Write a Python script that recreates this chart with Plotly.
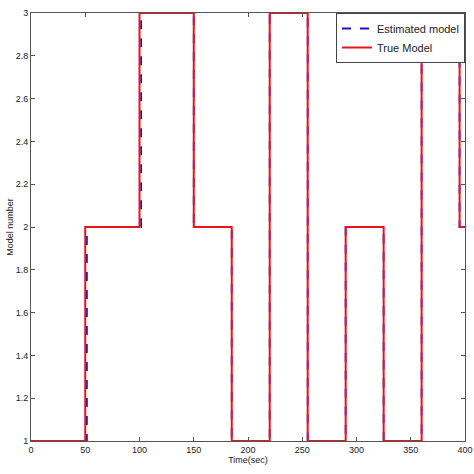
import plotly.graph_objects as go

# switching times (sec) and active model index
true_time = [0, 50, 100, 150, 185, 220, 255, 290, 325, 360, 395, 400]
true_model = [1, 2, 3, 2, 1, 3, 1, 2, 1, 3, 2, 2]

est_time = [0, 51.5, 101.5, 150, 185, 220, 255, 290, 325, 360, 395, 400]
est_model = [1, 2, 3, 2, 1, 3, 1, 2, 1, 3, 2, 2]

x_ticks = [0, 50, 100, 150, 200, 250, 300, 350, 400]
y_ticks = [1, 1.2, 1.4, 1.6, 1.8, 2, 2.2, 2.4, 2.6, 2.8, 3]

fig = go.Figure()
fig.add_trace(go.Scatter(
    x=est_time, y=est_model, mode='lines', line_shape='hv',
    name='Estimated model',
    line=dict(color='#1a10c8', width=1.8, dash='dash')))
fig.add_trace(go.Scatter(
    x=true_time, y=true_model, mode='lines', line_shape='hv',
    name='True Model',
    line=dict(color='#e8141c', width=2)))

axis_common = dict(
    showgrid=False, zeroline=False, showline=True, linecolor='#555555',
    linewidth=1, mirror='ticks', ticks='inside', ticklen=4,
    tickcolor='#555555', tickfont=dict(size=9, color='#222222'),
    automargin=False)

fig.update_xaxes(range=[0, 400], tickvals=x_ticks,
                 title=dict(text='Time(sec)', font=dict(size=9), standoff=0),
                 **axis_common)
fig.update_yaxes(range=[1, 3], tickvals=y_ticks,
                 ticktext=[('%g' % v) for v in y_ticks],
                 title=dict(text='Model number', font=dict(size=9), standoff=0),
                 **axis_common)

fig.update_layout(
    width=474, height=474,
    margin=dict(l=31, r=9, t=13, b=33),
    paper_bgcolor='white', plot_bgcolor='white',
    font=dict(family='Liberation Sans, Arial, sans-serif', color='#222222'),
    legend=dict(x=1.0, y=1.0, xanchor='right', yanchor='top',
                bgcolor='white', bordercolor='#444444', borderwidth=1,
                font=dict(size=11), tracegroupgap=0, itemwidth=30),
    showlegend=True,
)

# page body has a default 8px margin; drop it so the figure sits at 0,0
fig.write_html("out.html", config={'displayModeBar': False},
               post_script="document.body.style.margin='0';")
